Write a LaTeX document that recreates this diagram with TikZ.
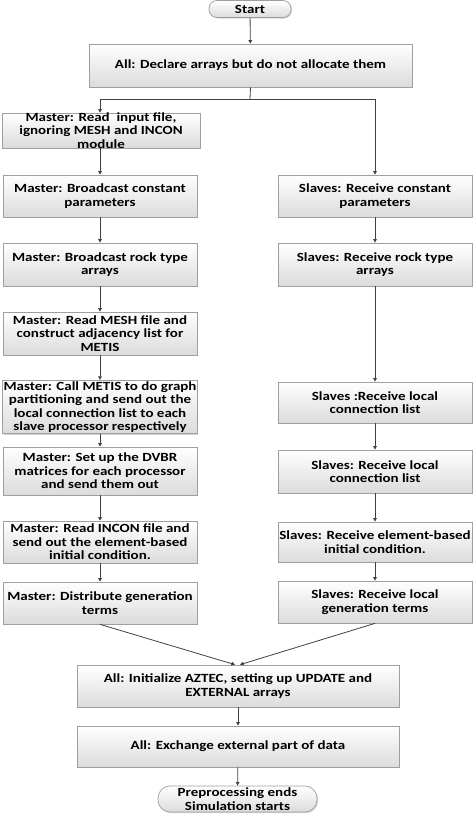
\documentclass[tikz,border=0pt]{standalone}
\usepackage{fontspec}
\setmainfont{Carlito}[FakeStretch=1.2]
\usetikzlibrary{arrows.meta,shadows,positioning}
\tikzset{
  box/.style={draw=gray!75, line width=0.7pt, top color=white, bottom color=gray!28,
    drop shadow={shadow xshift=1pt, shadow yshift=-1pt, opacity=0.35},
    align=center, inner xsep=1pt, inner ysep=1pt,
    font=\fontsize{12.5}{13.6}\selectfont\bfseries},
  term/.style={box, rounded corners=8pt},
  conn/.style={draw=black!75, line width=0.8pt, -{Triangle[width=3.6pt,length=3.6pt]}},
  seg/.style={draw=black!75, line width=0.8pt},
}
\begin{document}
\begin{tikzpicture}[x=1pt,y=-1pt]
\useasboundingbox (0,0) rectangle (474,814);
\node[term, minimum width=82, minimum height=17] (start) at (250,9) {Start};
\node[box, minimum width=323, minimum height=43] (decl) at (250.5,65.5) {All: Declare arrays but do not allocate them};
\node[box, minimum width=198, minimum height=35, inner ysep=-4pt] (read) at (101,130.5) {Master: Read\ \ input file,\\ignoring MESH and INCON\\module};
\node[box, minimum width=194, minimum height=42] (bcast) at (100,196) {Master: Broadcast constant\\parameters};
\node[box, minimum width=194, minimum height=43] (rock) at (100,264.5) {Master: Broadcast rock type\\arrays};
\node[box, minimum width=194, minimum height=43] (mesh) at (100,333.5) {Master: Read MESH file and\\construct adjacency list for\\METIS};
\node[box, minimum width=194, minimum height=52] (metis) at (100,407) {Master: Call METIS to do graph\\partitioning and send out the\\local connection list to each\\slave processor respectively};
\node[box, minimum width=194, minimum height=48] (dvbr) at (100,471) {Master: Set up the DVBR\\matrices for each processor\\and send them out};
\node[box, minimum width=194, minimum height=42] (incon) at (100,542) {Master: Read INCON file and\\send out the element-based\\initial condition.};
\node[box, minimum width=194, minimum height=42] (dist) at (100,603) {Master: Distribute generation\\terms};
\node[box, minimum width=194, minimum height=42] (s1) at (375,196) {Slaves: Receive constant\\parameters};
\node[box, minimum width=194, minimum height=43] (s2) at (375,264.5) {Slaves: Receive rock type\\arrays};
\node[box, minimum width=194, minimum height=41] (s3) at (375,402.5) {Slaves :Receive local\\connection list};
\node[box, minimum width=194, minimum height=43] (s4) at (375,471.5) {Slaves: Receive local\\connection list};
\node[box, minimum width=194, minimum height=40] (s5) at (375,542) {Slaves: Receive element-based\\initial condition.};
\node[box, minimum width=194, minimum height=42] (s6) at (375,602) {Slaves: Receive local\\generation terms};
\node[box, minimum width=322, minimum height=42] (aztec) at (238,686) {All: Initialize AZTEC, setting up UPDATE and\\EXTERNAL arrays};
\node[box, minimum width=322, minimum height=41] (exch) at (238,746.5) {All: Exchange external part of data};
\node[term, minimum width=159, minimum height=26, inner ysep=0pt, rounded corners=12pt] (end) at (237.5,799) {Preprocessing ends\\Simulation starts};
\coordinate (br) at (250,99);
\draw[conn] (start) -- (decl);
\draw[seg] (decl.south) -- (br);
\draw[conn] (br) -| (read.north -| bcast.north);
\draw[conn] (br) -| (s1.north);
\draw[conn] (read.south -| bcast.north) -- (bcast.north);
\draw[conn] (bcast) -- (rock);
\draw[conn] (rock) -- (mesh);
\draw[conn] (mesh) -- (metis);
\draw[conn] (metis) -- (dvbr);
\draw[conn] (dvbr) -- (incon);
\draw[conn] (incon) -- (dist);
\draw[conn] (s1) -- (s2);
\draw[conn] (s2) -- (s3);
\draw[conn] (s3) -- (s4);
\draw[conn] (s4) -- (s5);
\draw[conn] (s5) -- (s6);
\draw[conn] (dist.south) -- ([xshift=-3pt]aztec.north);
\draw[conn] (s6.south) -- ([xshift=2pt]aztec.north);
\draw[conn] (aztec) -- (exch);
\draw[conn] (exch) -- (end);
\end{tikzpicture}
\end{document}
